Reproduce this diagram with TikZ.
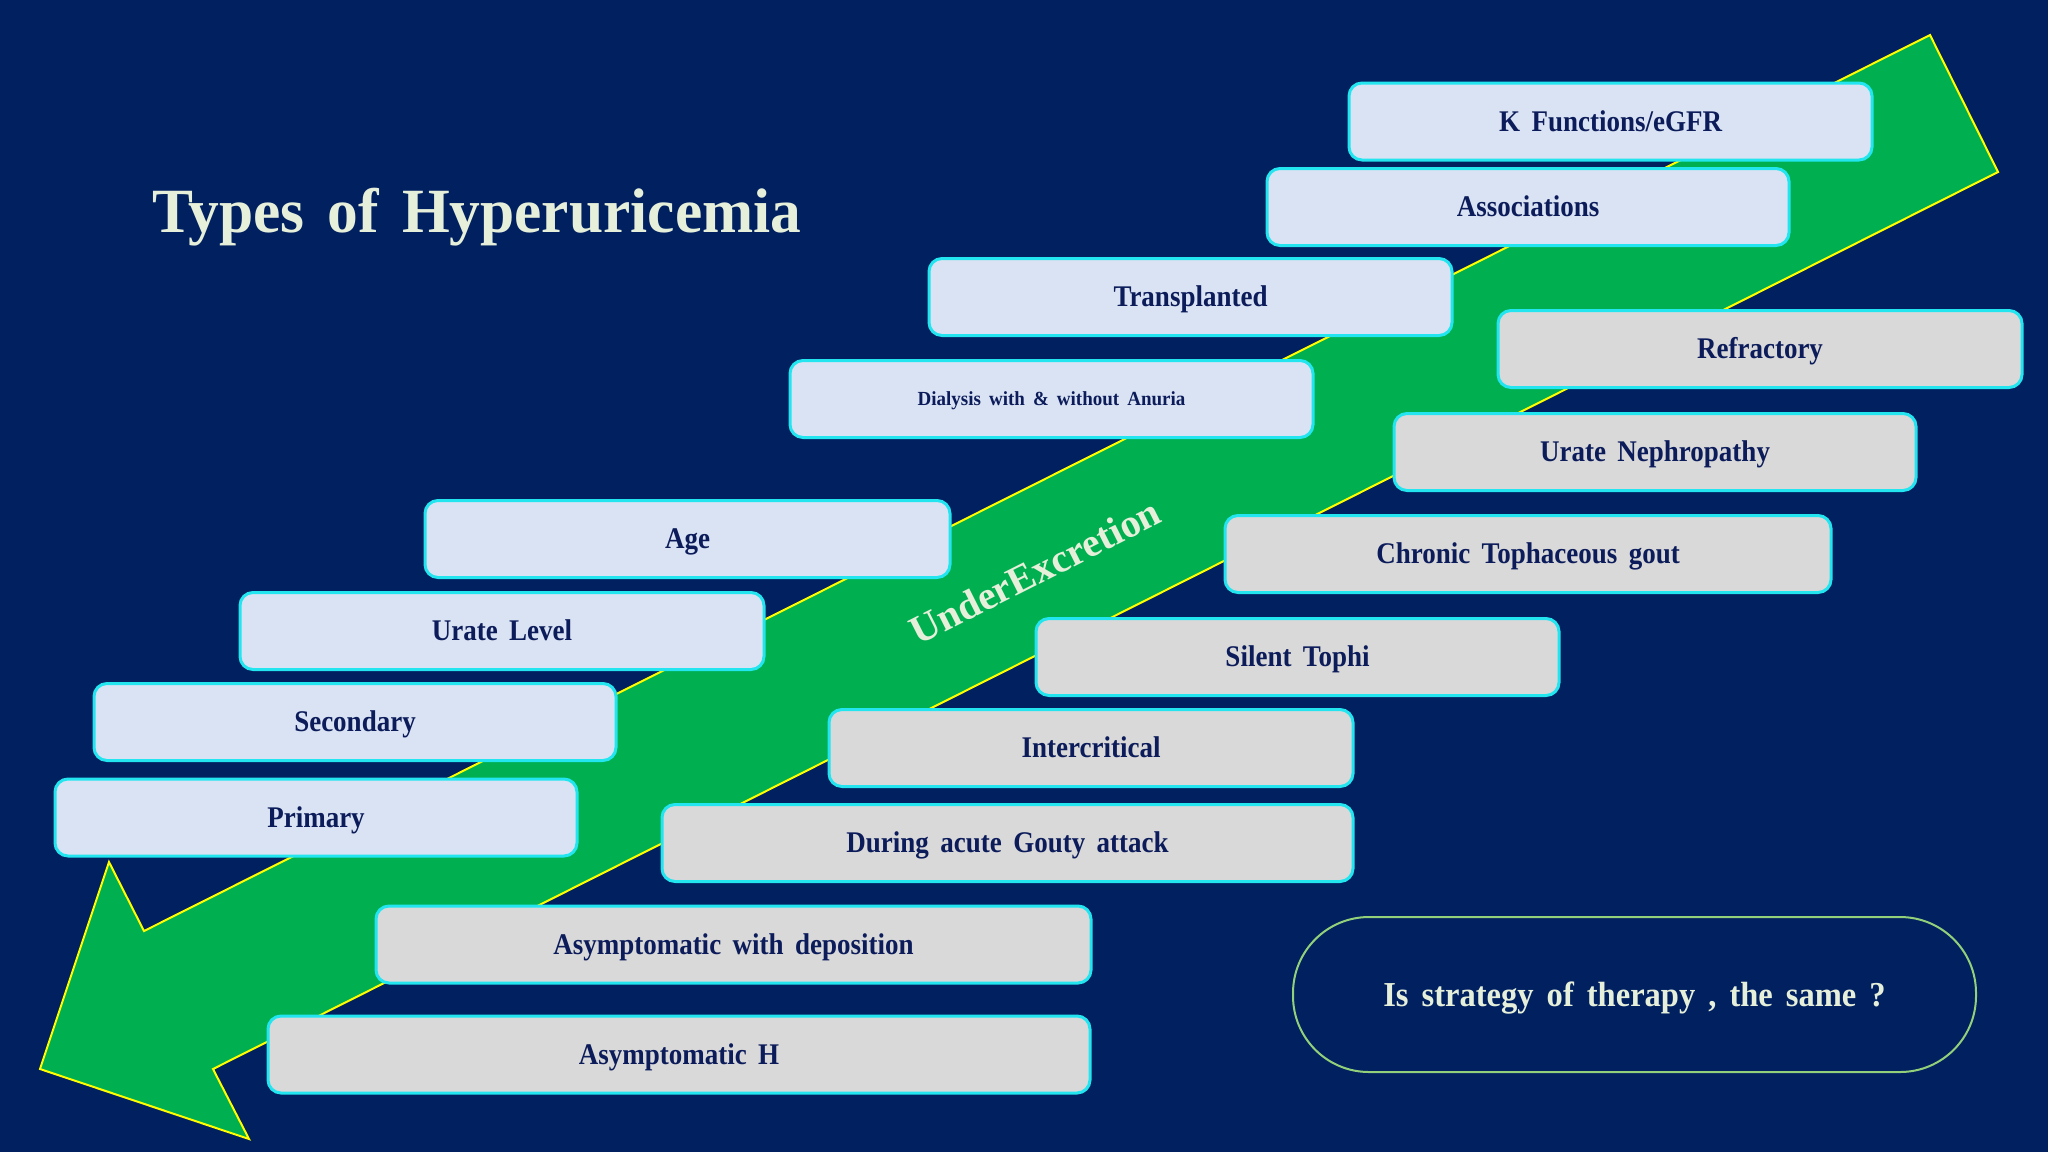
\documentclass[tikz,border=0pt]{standalone}
\usepackage{fontspec}
\setmainfont{Liberation Serif}
\newfontfamily\cardfont[FakeStretch=0.9, WordSpace=1.7]{Liberation Serif}
\newfontfamily\smallcardfont[FakeStretch=0.95, WordSpace=1.7]{Liberation Serif}
\newfontfamily\titlefont[FakeStretch=0.975, WordSpace=1.5]{Liberation Serif}
\newfontfamily\qfont[FakeStretch=0.93, WordSpace=1.6]{Liberation Serif}
\definecolor{bgnavy}{HTML}{002060}
\definecolor{agreen}{HTML}{00B050}
\definecolor{ayellow}{HTML}{FFFF00}
\definecolor{boxblue}{HTML}{DAE3F3}
\definecolor{boxgray}{HTML}{D9D9D9}
\definecolor{boxedge}{HTML}{22E5F0}
\definecolor{txtnavy}{HTML}{0C1C5A}
\definecolor{pale}{HTML}{E6EFDA}
\definecolor{qedge}{HTML}{92D07A}
\begin{document}
\begin{tikzpicture}[x=0.5pt,y=-0.5pt,
  card/.style={draw=boxedge, line width=1.5pt, rounded corners=6.5pt, inner sep=0pt,
    minimum height=38.5pt, text height=9.9pt, text depth=0pt, text=txtnavy,
    font=\cardfont\fontsize{15}{18}\selectfont\bfseries},
  bluecard/.style={card, fill=boxblue},
  graycard/.style={card, fill=boxgray},
  arrowshape/.style={fill=agreen, draw=ayellow, line width=1pt, line join=miter}]
\fill[bgnavy] (0,0) rectangle (2048,1152);
\useasboundingbox (0,0) rectangle (2048,1152);
% big arrow
\draw[arrowshape] (1930,35) -- (1998,172) -- (213,1069) -- (249,1139) -- (40,1069) -- (109,862) -- (144,931) -- cycle;
\node[rotate=26.8, text=pale, font=\fontsize{20}{24}\selectfont\bfseries] (under) at (1035,571) {UnderExcretion};
% title
\node[anchor=base west, inner sep=0pt, text=pale, font=\titlefont\fontsize{31.5}{36}\selectfont\bfseries] (title) at (152,232) {Types of Hyperuricemia};
% blue cards
\node[bluecard, minimum width=261.5pt] (kfun) at (1610.5,121.5) {K Functions/eGFR};
\node[bluecard, minimum width=261pt] (assoc) at (1528,207) {Associations};
\node[bluecard, minimum width=261.5pt] (transp) at (1190.5,297) {Transplanted};
\node[bluecard, minimum width=261.5pt, text height=6.6pt, font=\smallcardfont\fontsize{10}{12}\selectfont\bfseries] (dial) at (1051.5,399) {Dialysis with \& without Anuria};
\node[bluecard, minimum width=262.5pt] (age) at (687.5,539) {Age};
\node[bluecard, minimum width=262pt] (urate) at (502,631) {Urate Level};
\node[bluecard, minimum width=261pt] (second) at (355,722) {Secondary};
\node[bluecard, minimum width=261pt] (primary) at (316,817.5) {Primary};
% gray cards
\node[graycard, minimum width=262pt] (refr) at (1760,349) {Refractory};
\node[graycard, minimum width=261pt] (nephro) at (1655,452) {Urate Nephropathy};
\node[graycard, minimum width=303pt] (chronic) at (1528,554) {Chronic Tophaceous gout};
\node[graycard, minimum width=261.5pt] (silent) at (1297.5,657) {Silent Tophi};
\node[graycard, minimum width=262pt] (inter) at (1091,748) {Intercritical};
\node[graycard, minimum width=345.5pt] (during) at (1007.5,843) {During acute Gouty attack};
\node[graycard, minimum width=357.5pt] (asdep) at (733.5,944.5) {Asymptomatic with deposition};
\node[graycard, minimum width=411pt] (ash) at (679,1054.5) {Asymptomatic H};
% question
\node[draw=qedge, line width=1pt, rounded corners=38pt, minimum width=341.5pt, minimum height=77.5pt,
  text height=11.6pt, text depth=0pt, text=pale, font=\qfont\fontsize{17.5}{21}\selectfont\bfseries] (question) at (1634.5,994.5) {Is strategy of therapy , the same ?};
\end{tikzpicture}
\end{document}
